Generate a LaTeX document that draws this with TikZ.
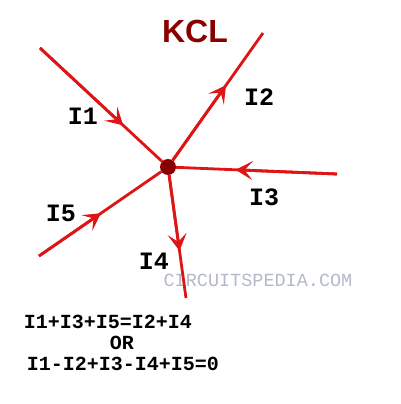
\documentclass[tikz,border=0pt]{standalone}
\usepackage{fontspec}
\setmainfont{Liberation Sans}
\newfontfamily\labelfont{Liberation Mono}
\usetikzlibrary{arrows.meta,calc}
\definecolor{wirered}{HTML}{DD1515}
\definecolor{dotred}{HTML}{8A0000}
\definecolor{markgray}{HTML}{B4B8C8}

\begin{document}
\begin{tikzpicture}[x=1pt,y=-1pt,
  wire/.style={draw=wirered,line width=2.8pt},
  tip/.style={draw=wirered,line width=2.8pt,-{Stealth[length=17pt,width=19pt,inset=8pt]}},
  cur/.style={font=\labelfont\bfseries\fontsize{25}{25}\selectfont},
  eqn/.style={font=\labelfont\bfseries\fontsize{20}{20}\selectfont}]
  \useasboundingbox (0,0) rectangle (400,404);

  \node[font=\bfseries\fontsize{32}{32}\selectfont,text=dotred] (title) at (195,31) {KCL};

  % junction and wire ends
  \node[circle,fill=dotred,inner sep=0pt,minimum size=16] (J) at (168,167) {};
  \coordinate (e1) at (40,48);
  \coordinate (e2) at (263,33);
  \coordinate (e3) at (337,174);
  \coordinate (e4) at (186,298);
  \coordinate (e5) at (39,256);

  % watermark
  \node[font=\labelfont\fontsize{18.5}{18.5}\selectfont,text=markgray] (wm) at (258,280) {CIRCUITSPEDIA.COM};

  \draw[wire] (e1) -- (J);
  \draw[wire] (J) -- (e2);
  \draw[wire] (e3) -- (J);
  \draw[wire] (J) -- (e4);
  \draw[wire] (e5) -- (J);
  % arrow heads
  \draw[tip] (e1) -- ($(e1)!0.65!(J)$);
  \draw[tip] (J) -- ($(J)!0.61!(e2)$);
  \draw[tip] (e3) -- ($(e3)!0.60!(J)$);
  \draw[tip] (J) -- ($(J)!0.64!(e4)$);
  \draw[tip] (e5) -- ($(e5)!0.48!(J)$);

  \node[cur] (l1) at (83,116) {I1};
  \node[cur] (l2) at (259,97) {I2};
  \node[cur] (l3) at (264,197) {I3};
  \node[cur] (l4) at (154,261) {I4};
  \node[cur] (l5) at (61,213) {I5};

  \node[eqn] (eq1) at (108,322) {I1+I3+I5=I2+I4};
  \node[eqn] (or) at (122,343) {OR};
  \node[eqn] (eq2) at (123,364) {I1-I2+I3-I4+I5=0};
\end{tikzpicture}
\end{document}
